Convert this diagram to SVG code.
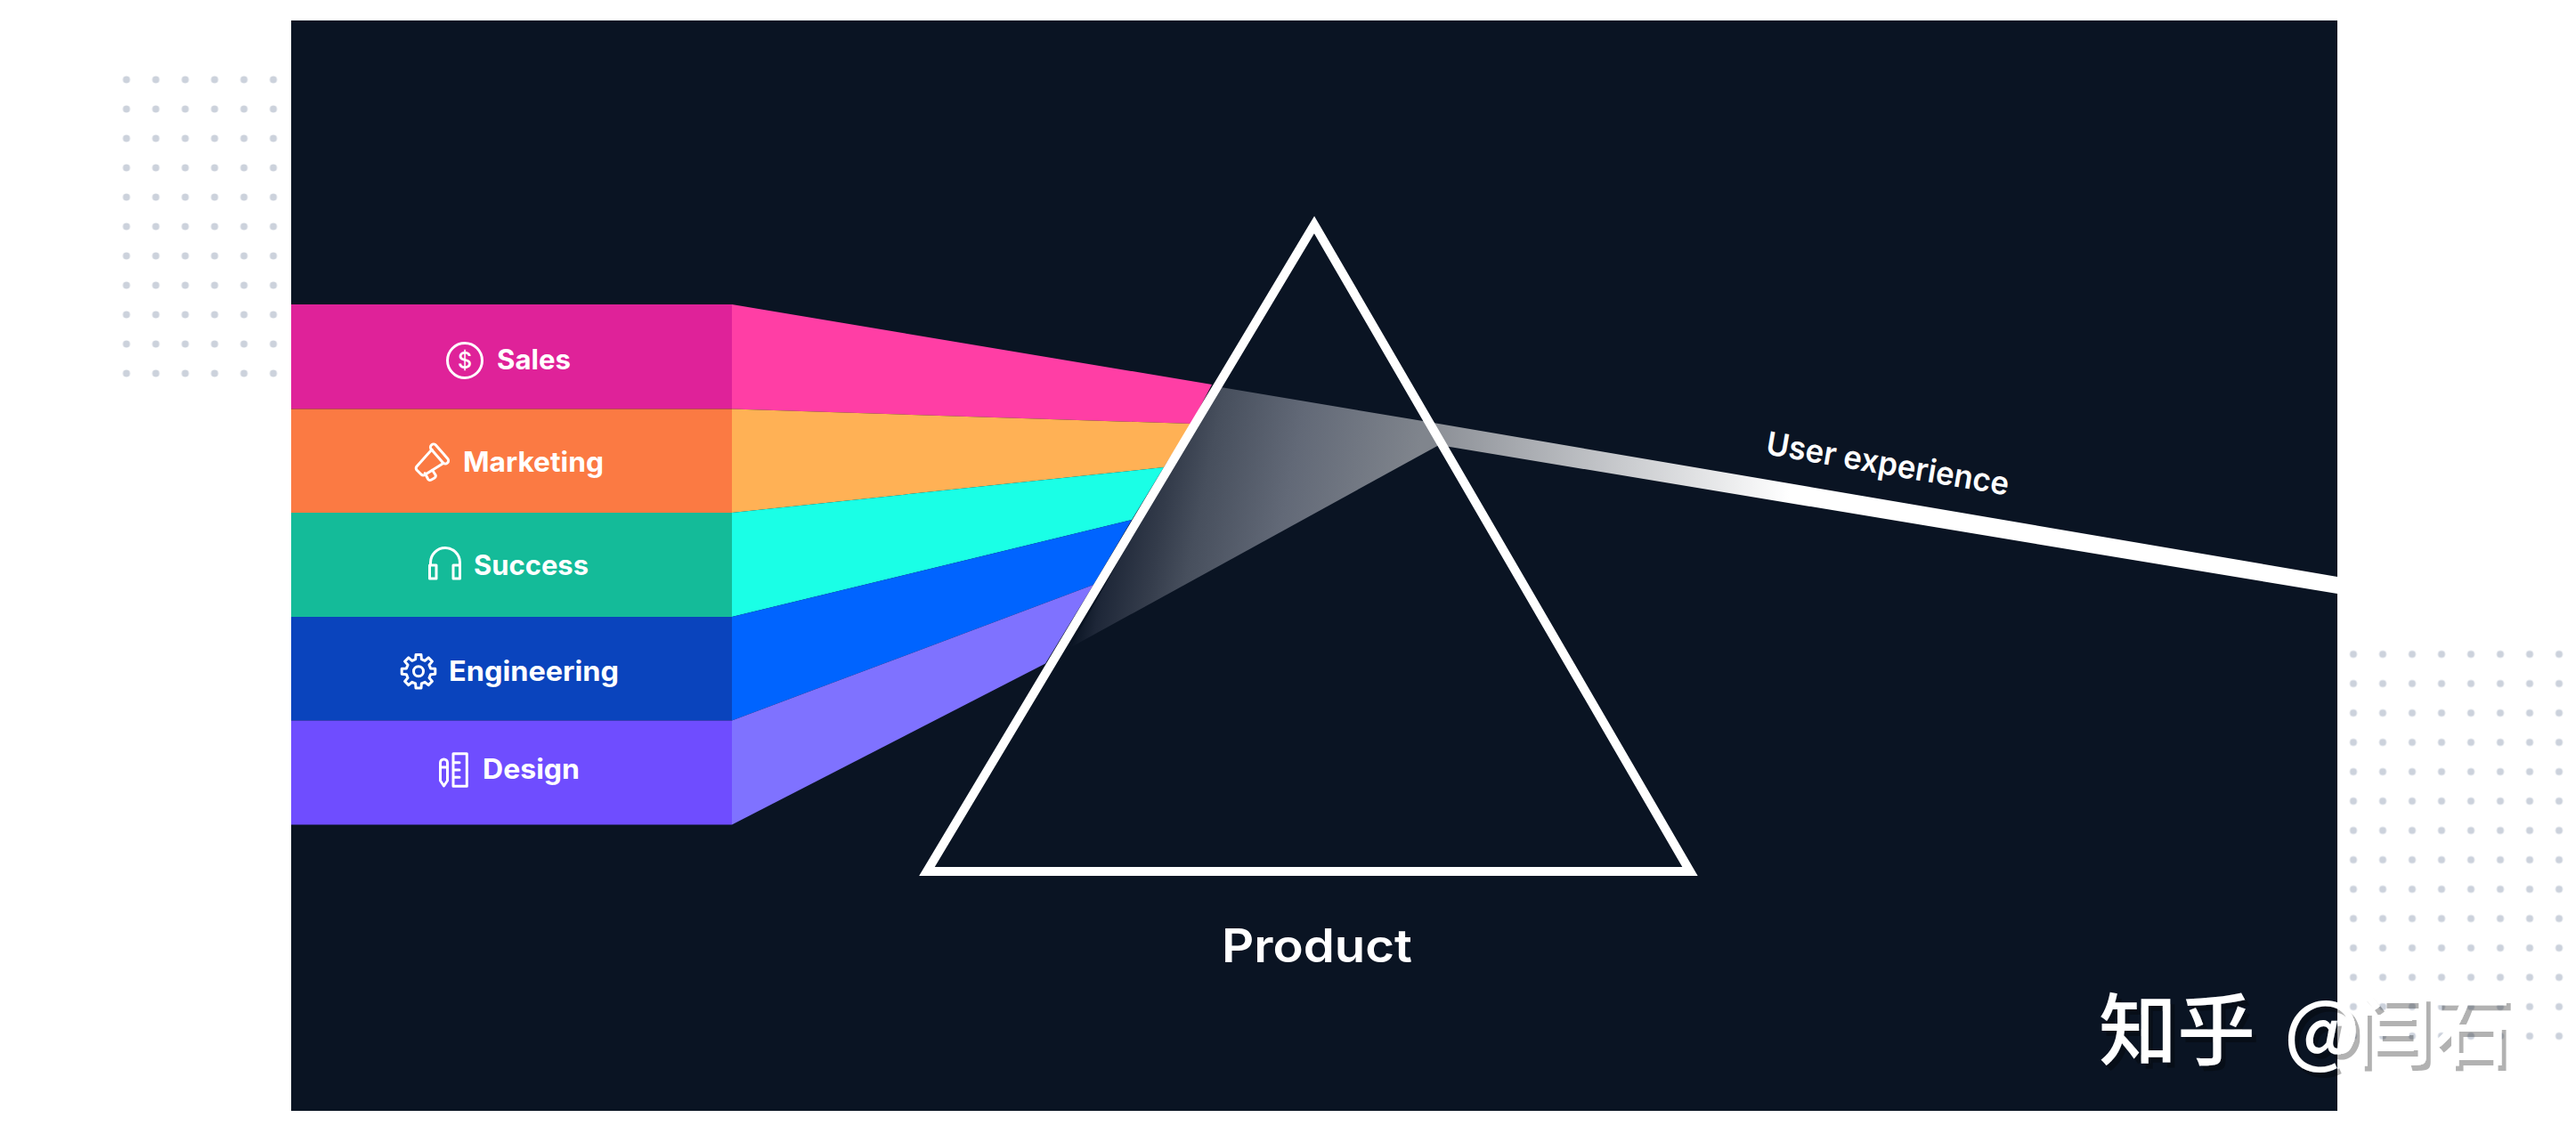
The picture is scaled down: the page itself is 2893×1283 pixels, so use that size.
<svg xmlns="http://www.w3.org/2000/svg" width="2893" height="1283" viewBox="0 0 2893 1283">
<style>
.lbl{font-family:"Inter","Liberation Sans",sans-serif;font-weight:700;font-size:31px;fill:#fff}
.ico{fill:none;stroke:#fff;stroke-width:3;stroke-linejoin:round;stroke-linecap:round}
</style>
<defs>
<pattern id="dots" width="33" height="33" patternUnits="userSpaceOnUse" x="125.5" y="73"><circle cx="16.5" cy="16.5" r="4" fill="#ccd2dc"/></pattern>
<pattern id="dots2" width="33" height="33" patternUnits="userSpaceOnUse" x="2626.5" y="718.5"><circle cx="16.5" cy="16.5" r="4" fill="#ccd2dc"/></pattern>
<linearGradient id="glass" gradientUnits="userSpaceOnUse" x1="1202" y1="727" x2="1537" y2="794"><stop offset="0" stop-color="#0a1423"/><stop offset=".07" stop-color="#1e2738"/><stop offset=".215" stop-color="#343c4b"/><stop offset=".33" stop-color="#474f5d"/><stop offset=".6" stop-color="#626977"/><stop offset="1" stop-color="#80858d"/></linearGradient>
<linearGradient id="ray" gradientUnits="userSpaceOnUse" x1="1610" y1="0" x2="2010" y2="0"><stop offset="0" stop-color="#8b8f96"/><stop offset="1" stop-color="#fff"/></linearGradient>
<filter id="wm" x="-5%" y="-20%" width="110%" height="140%"><feDropShadow dx="5" dy="6" stdDeviation="0.6" flood-color="#000" flood-opacity="0.3"/></filter>
</defs>
<rect width="2893" height="1283" fill="#fff"/>
<g id="dots-left"><rect x="125.5" y="73" width="198" height="363" fill="url(#dots)"/></g>
<g id="dots-right"><rect x="2626.5" y="718.5" width="264" height="462" fill="url(#dots2)"/></g>
<rect id="panel" x="327" y="23" width="2298" height="1225" fill="#0a1423"/>
<g id="beams">
<polygon points="822,342 1361,432 1338,476 822,459.5" fill="#ff3ea5"/>
<polygon points="822,459.5 1338,476 1307,525 822,576" fill="#ffb155"/>
<polygon points="822,576 1307,525 1271,584 822,693" fill="#1affe6"/>
<polygon points="822,693 1271,584 1228,657 822,809.5" fill="#0064ff"/>
<polygon points="822,809.5 1228,657 1174,745.5 822,926.5" fill="#7f72ff"/>
</g>
<g id="light">
<polygon points="1365,434 1601,473.6 1616,500 1202,727.6" fill="url(#glass)"/>
<polygon points="1601,473.6 2625,648 2625,667 1616,500" fill="url(#ray)"/>
</g>
<g id="prism"><polygon points="1476,252.5 1898,979 1041,979" fill="none" stroke="#fff" stroke-width="10"/></g>
<g id="node-sales">
<rect x="327" y="342" width="495" height="117.5" fill="#df2299"/>
<circle class="ico" cx="522" cy="405" r="19.5"/>
<text x="522" y="414" text-anchor="middle" font-family="Inter,'Liberation Sans',sans-serif" font-size="25" font-weight="500" fill="#fff">$</text>
<text class="lbl" x="558" y="415" textLength="83" lengthAdjust="spacingAndGlyphs">Sales</text>
</g>
<g id="node-marketing">
<rect x="327" y="459.5" width="495" height="116.5" fill="#fb7a43"/>
<rect class="ico" x="480" y="506.5" width="27" height="7" rx="3.5" transform="rotate(49 493.5 510)"/>
<path class="ico" d="M485 505 L468 524 Q466.5 526 468 528 L473 533 Q475 534.5 477 533.5 L497 521 M477.3 531.7 L480.7 538.3 Q482 540 484 539.2 L488 537 Q490 535.5 489 533.5 L485.5 528"/>
<text class="lbl" x="520" y="530" textLength="158" lengthAdjust="spacingAndGlyphs">Marketing</text>
</g>
<g id="node-success">
<rect x="327" y="576" width="495" height="117" fill="#14bb99"/>
<path class="ico" d="M483.5 635 V632 A16.5 16.5 0 0 1 516.5 632 V635 M482.5 635 H490 V650 H482.5 Z M509 635 H516.5 V650 H509 Z"/>
<text class="lbl" x="532" y="646" textLength="129" lengthAdjust="spacingAndGlyphs">Success</text>
</g>
<g id="node-engineering">
<rect x="327" y="693" width="495" height="116.5" fill="#0a44bd"/>
<g transform="translate(470 754.3)">
<polygon class="ico" points="18.77,-2.97 18.77,2.97 13.58,3.39 12,7.21 15.37,11.17 11.17,15.37 7.21,12 3.39,13.58 2.97,18.77 -2.97,18.77 -3.39,13.58 -7.21,12 -11.17,15.37 -15.37,11.17 -12,7.21 -13.58,3.39 -18.77,2.97 -18.77,-2.97 -13.58,-3.39 -12,-7.21 -15.37,-11.17 -11.17,-15.37 -7.21,-12 -3.39,-13.58 -2.97,-18.77 2.97,-18.77 3.39,-13.58 7.21,-12 11.17,-15.37 15.37,-11.17 12,-7.21 13.58,-3.39"/>
<circle class="ico" r="5.5"/>
</g>
<text class="lbl" x="504" y="765" textLength="191" lengthAdjust="spacingAndGlyphs">Engineering</text>
</g>
<g id="node-design">
<rect x="327" y="809.5" width="495" height="117" fill="#6f4dff"/>
<path class="ico" d="M494.5 857 A4 4 0 0 1 502.5 857 V877 L498.5 883 L494.5 877 Z M494.5 862 H502.5 M509 846.7 H524.3 V883.3 H509 Z M509 856.7 H516 M509 865 H516 M509 873.3 H516"/>
<text class="lbl" x="542" y="875" textLength="109" lengthAdjust="spacingAndGlyphs">Design</text>
</g>
<text id="label-product" x="1372" y="1081" textLength="214" lengthAdjust="spacingAndGlyphs" font-family="Inter,'Liberation Sans',sans-serif" font-weight="600" font-size="52" fill="#fff">Product</text>
<text id="label-ux" transform="translate(1982 510) rotate(9.7)" textLength="276" lengthAdjust="spacingAndGlyphs" font-family="Inter,'Liberation Sans',sans-serif" font-weight="600" font-size="36" fill="#fff">User experience</text>
<text id="watermark" y="1189" font-family="'Noto Sans CJK SC',sans-serif" font-weight="500" font-size="88" fill="#fff" filter="url(#wm)"><tspan x="2357">知乎</tspan><tspan x="2565">@</tspan><tspan x="2644">闫石</tspan></text>
</svg>
